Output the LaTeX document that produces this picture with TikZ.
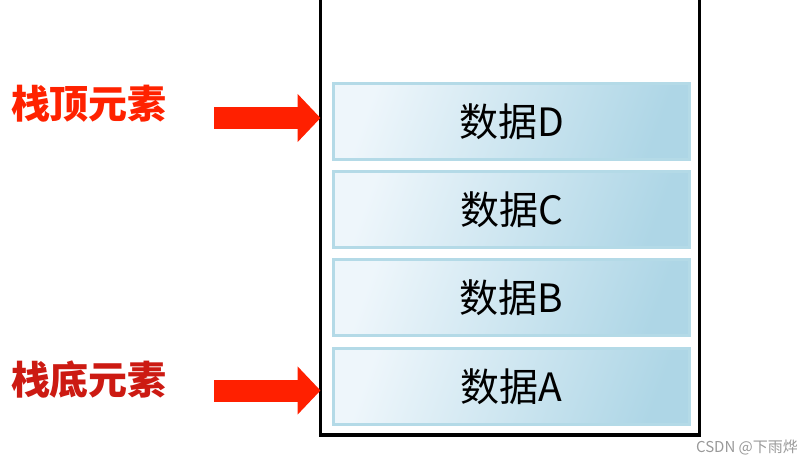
\documentclass[tikz,border=0pt]{standalone}
\usepackage{fontspec}
\setmainfont{Noto Sans CJK SC}
\usetikzlibrary{arrows.meta}
\definecolor{cellhi}{HTML}{EEF6FB}
\definecolor{celllo}{HTML}{AED6E6}
\definecolor{celledge}{HTML}{B4DAE7}
\definecolor{toprd}{HTML}{FF2200}
\definecolor{botrd}{HTML}{CC1A12}
\definecolor{arrrd}{HTML}{FF2000}
\begin{document}
\begin{tikzpicture}[x=1pt,y=-1pt,
    cell/.style={draw=celledge,line width=3.5pt,top color=cellhi,bottom color=celllo,
      shading angle=70,minimum width=356pt,minimum height=76pt,inner sep=0pt,
      font=\fontsize{39}{41}\selectfont},
    lab/.style={inner sep=0pt,font=\fontsize{39}{41}\selectfont\bfseries},
    fat/.style={arrrd,line width=22pt,-{Triangle[length=23pt,width=47pt]}}]
  \useasboundingbox (0,0) rectangle (812,463);
  % stack walls, open at the top
  \coordinate (wl) at (320.5,0);
  \coordinate (wr) at (699.5,0);
  \draw[line width=3.8pt] (wl) -- (320.5,435) -- (699.5,435) -- (wr);
  % the cells
  \node[cell] (cD) at (511.5,121.5) {数据D};
  \node[cell] (cC) at (511.5,209.5) {数据C};
  \node[cell] (cB) at (511.5,297.5) {数据B};
  \node[cell] (cA) at (511.5,386.5) {数据A};
  % pointers
  \node[lab,text=toprd] (toplab) at (89,104) {栈顶元素};
  \node[lab,text=botrd] (botlab) at (89,380) {栈底元素};
  \coordinate (ta) at (214,118);
  \coordinate (ba) at (214,390.5);
  \foreach \p in {ta,ba}{\draw[fat] (\p) -- (\p -| wl);}
  \node[text=black!40,font=\fontsize{15}{16}\selectfont] (mark) at (747,447) {CSDN @下雨烨};
\end{tikzpicture}
\end{document}
